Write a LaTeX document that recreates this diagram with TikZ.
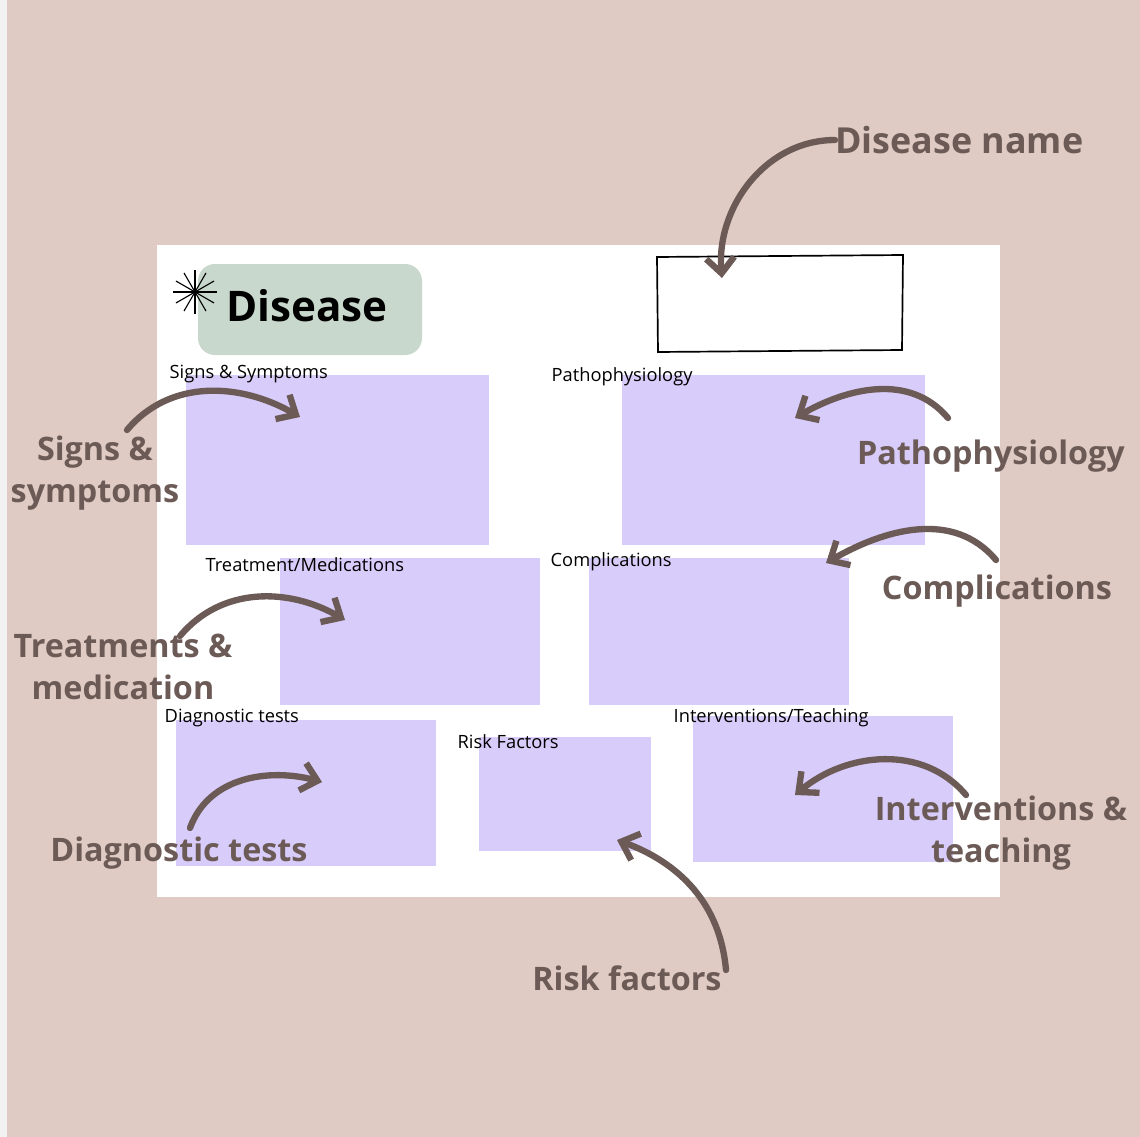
\documentclass[tikz,border=0pt]{standalone}
\usepackage{fontspec}
\setmainfont{Open Sans}
\usetikzlibrary{arrows.meta}
\definecolor{bgpink}{HTML}{DFCBC3}
\definecolor{lilac}{HTML}{D8CCFA}
\definecolor{sage}{HTML}{C9D8CC}
\definecolor{brownish}{HTML}{6B5A55}
\begin{document}
\begin{tikzpicture}[x=0.025cm,y=-0.025cm,
    box/.style={fill=lilac, draw=none},
    tag/.style={font=\bfseries\fontsize{23}{30}\selectfont, text=brownish, align=center, inner sep=0pt},
    hand/.style={font=\fontsize{13}{15}\selectfont, anchor=south west, inner sep=1pt},
    curly/.style={draw=brownish, line width=4.5pt, line cap=round, -{Straight Barb[length=11pt,width=20pt,line width=4.5pt]}}
    ]
    \fill[bgpink] (0,0) rectangle (1140,1137);
    \fill[gray!10] (0,0) rectangle (7,1137);
    \fill[white] (157,245) rectangle (1000,897);

    % boxes on the sheet
    \fill[box] (186,375) rectangle (489,545);
    \fill[box] (622,375) rectangle (925,545);
    \fill[box] (280,558) rectangle (540,705);
    \fill[box] (589,558) rectangle (849,705);
    \fill[box] (176,720) rectangle (436,866);
    \fill[box] (479,737) rectangle (651,851);
    \fill[box] (693,716) rectangle (953,862);
    \fill[sage, rounded corners=12pt] (198,264) rectangle (422,355);
    \draw[line width=1.2pt] (657,257) -- (903,255) -- (902,350) -- (658,352) -- cycle;

    \node[font=\bfseries\fontsize{30}{34}\selectfont] (title) at (307,306) {Disease};
    \foreach \a in {0,30,...,330}
      \draw[line width=0.8pt] (195,292) -- ++(\a:22);

    % sheet headings
    \node[hand] (hss) at (168,385) {Signs \& Symptoms};
    \node[hand] (hpat) at (550,388) {Pathophysiology};
    \node[hand] (htrt) at (204,573) {Treatment/Medications};
    \node[hand] (hcom) at (549,573) {Complications};
    \node[hand] (hdia) at (163,729) {Diagnostic tests};
    \node[hand] (hrsk) at (456,750) {Risk Factors};
    \node[hand] (hint) at (672,729) {Interventions/Teaching};

    % outside labels
    \node[tag, anchor=west, font=\bfseries\fontsize{25.5}{30}\selectfont] (name) at (835,140) {Disease name};
    \node[tag] (signs) at (95,473) {Signs \&\\symptoms};
    \node[tag] (patho) at (991,456) {Pathophysiology};
    \node[tag] (compl) at (997,591) {Complications};
    \node[tag] (treat) at (123,667) {Treatments \&\\medication};
    \node[tag] (diag) at (179,853) {Diagnostic tests};
    \node[tag] (risk) at (627,978) {Risk factors};
    \node[tag] (inter) at (1001,833) {Interventions \&\\teaching};

    \coordinate (a1) at (300,417);
    \coordinate (a2) at (795,418);
    \coordinate (a3) at (826,563);
    \coordinate (a4) at (345,620);
    \coordinate (a5) at (322,782);
    \coordinate (a6) at (617,840);
    \coordinate (a7) at (795,795);
    \coordinate (a8) at (722,278);

    \draw[curly] (name.west) to[out=180,in=95] (a8);
    \draw[curly] (127,430) to[out=50,in=150] (a1);
    \draw[curly] (948,418) to[out=130,in=30] (a2);
    \draw[curly] (996,560) to[out=130,in=30] (a3);
    \draw[curly] (180,636) to[out=50,in=150] (a4);
    \draw[curly] (190,828) to[out=70,in=165] (a5);
    \draw[curly] (726,970) to[out=95,in=-20] (a6);
    \draw[curly] (966,795) to[out=130,in=40] (a7);
\end{tikzpicture}
\end{document}
